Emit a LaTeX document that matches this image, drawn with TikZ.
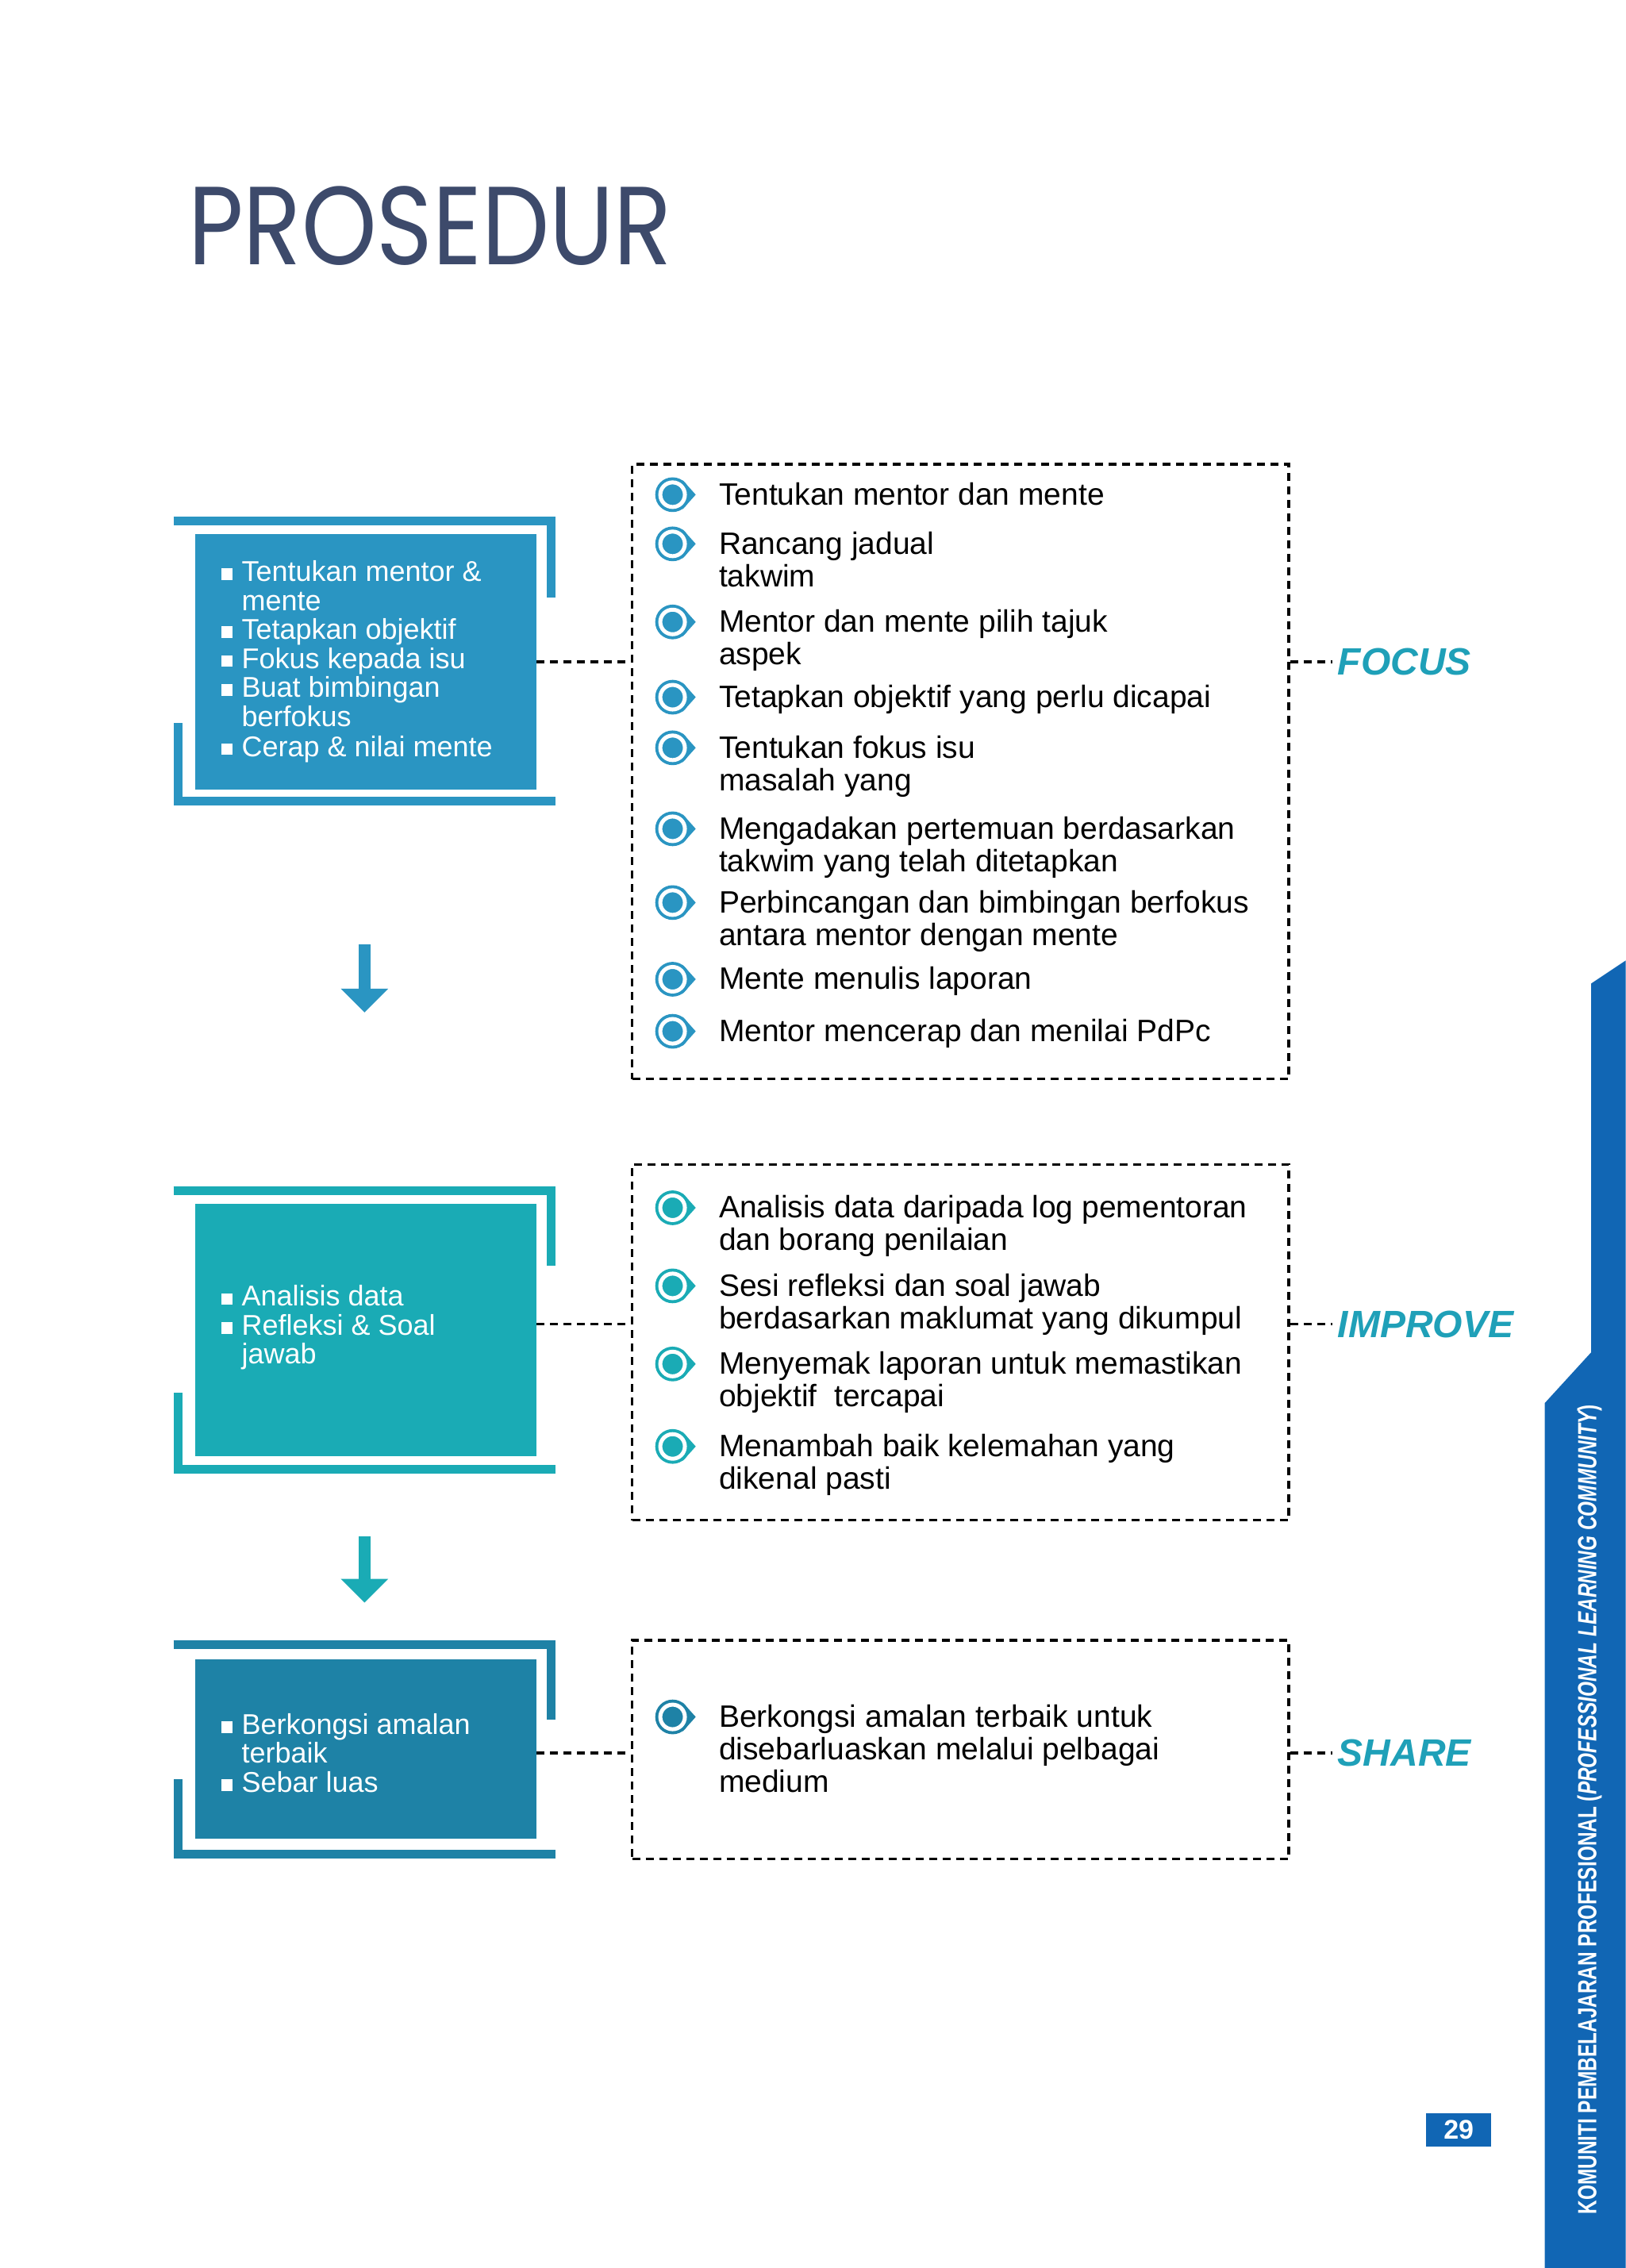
\documentclass[tikz,border=0pt]{standalone}
\usepackage{fontspec}
\setmainfont{Liberation Sans}
\newfontfamily\titlefont{Poppins}
\usetikzlibrary{arrows.meta}
\definecolor{cA}{HTML}{2A95C2}
\definecolor{cB}{HTML}{1AABB5}
\definecolor{cC}{HTML}{1E82A6}
\definecolor{lbl}{HTML}{1FA0B8}
\definecolor{side}{HTML}{1166B4}
\definecolor{ttl}{HTML}{3D4A6B}
\def\U{1.8224pt}
\tikzset{
  fillbox/.style={inner sep=0, draw=none},
  dbox/.style={draw=black, dash pattern=on 10pt off 7pt, line width=3.4pt, inner sep=0},
  dconn/.style={black, dash pattern=on 10pt off 7pt, line width=3.4pt},
  itm/.style={anchor=base west, inner sep=0, font=\fontsize{39}{41}\selectfont},
  btxt/.style={anchor=base west, inner sep=0, text=white, font=\fontsize{36}{36}\selectfont},
  phase/.style={anchor=west, inner sep=0, text=lbl, font=\fontsize{48}{50}\selectfont\bfseries\itshape},
  frame/.style={line width=6*\U},
  eye/.pic={
    \fill[pic actions] (0,0) circle (12);
    \fill[pic actions] (7,-10) -- (16,0) -- (7,10) -- cycle;
    \draw[white, line width=5pt] (0,0) circle (8.5);
  },
}
\newcommand\bx[3]{\fill[white] (#1-4,#2-2) rectangle (#1+4,#2+6);\node[btxt] at (#1+10,#2+7) {#3};}
\begin{document}
\begin{tikzpicture}[x=1.8224pt,y=-1.8224pt]
\useasboundingbox (0,0) rectangle (1124,1568);
\fill[white] (0,0) rectangle (1124,1568);
% title
\node[anchor=base west, inner sep=0, text=ttl] (title) at (130,183) {\scalebox{0.86}[1]{\titlefont\fontsize{140}{140}\selectfont PROSEDUR}};
% side bar
\fill[side] (1124,664) -- (1100,680) -- (1100,935) -- (1068,970) -- (1068,1568) -- (1124,1568) -- cycle;
\node[rotate=90, inner sep=0, text=white] (sidetxt) at (1099,1251) {\resizebox{1020pt}{24pt}{\bfseries KOMUNITI PEMBELAJARAN PROFESIONAL (\itshape PROFESSIONAL LEARNING COMMUNITY\upshape)}};
% page number
\node[fill=side, text=white, minimum width=45*\U, minimum height=23*\U, inner sep=0, font=\fontsize{34}{34}\selectfont\bfseries] (pg) at (1008.5,1472.5) {29};

% ---------- box 1
\draw[cA, frame] (120,360) -- (381,360) -- (381,413);
\draw[cA, frame] (123,500) -- (123,554) -- (384,554);
\node[fillbox, fill=cA, minimum width=236*\U, minimum height=177*\U] (b1) at (253,457.5) {};
\bx{157}{395}{Tentukan mentor \&}
\node[btxt] (b1l2) at (167,422) {mente};
\bx{157}{435}{Tetapkan objektif}
\bx{157}{455}{Fokus kepada isu}
\bx{157}{475}{Buat bimbingan}
\node[btxt] (b1l6) at (167,502) {berfokus};
\bx{157}{516}{Cerap \& nilai mente}

% ---------- box 2
\draw[cB, frame] (120,823) -- (381,823) -- (381,875);
\draw[cB, frame] (123,963) -- (123,1016) -- (384,1016);
\node[fillbox, fill=cB, minimum width=236*\U, minimum height=175*\U] (b2) at (253,919.5) {};
\bx{157}{896}{Analisis data}
\bx{157}{916}{Refleksi \& Soal}
\node[btxt] (b2l3) at (167,943) {jawab};

% ---------- box 3
\draw[cC, frame] (120,1137) -- (381,1137) -- (381,1189);
\draw[cC, frame] (123,1230) -- (123,1282) -- (384,1282);
\node[fillbox, fill=cC, minimum width=236*\U, minimum height=124*\U] (b3) at (253,1209) {};
\bx{157}{1192}{Berkongsi amalan}
\node[btxt] (b3l2) at (167,1219) {terbaik};
\bx{157}{1232}{Sebar luas}

% arrows
\coordinate (a1s) at (252,653); \coordinate (a1e) at (252,700);
\coordinate (a2s) at (252,1062); \coordinate (a2e) at (252,1108);
\draw[cA, line width=15pt, -{Triangle[width=58pt,length=30pt]}] (a1s) -- (a1e);
\draw[cB, line width=15pt, -{Triangle[width=58pt,length=30pt]}] (a2s) -- (a2e);

% dashed boxes
\node[dbox, minimum width=454*\U, minimum height=425*\U] (d1) at (664,533.5) {};
\node[dbox, minimum width=454*\U, minimum height=246*\U] (d2) at (664,928) {};
\node[dbox, minimum width=454*\U, minimum height=151*\U] (d3) at (664,1209.5) {};

% connectors
\draw[dconn] (b1.east) -- (b1.east -| d1.west);
\draw[dconn] (b2.east) ++(0,-4) coordinate (c2) (c2) -- (c2 -| d2.west);
\draw[dconn] (b3.east) ++(0,3) coordinate (c3) (c3) -- (c3 -| d3.west);
\coordinate (r1) at (d1.east |- b1.east);
\coordinate (r2) at (d2.east |- c2);
\coordinate (r3) at (d3.east |- c3);
\draw[dconn] (r1) -- ++(29,0) node[phase, right=3*\U] (f1) {FOCUS};
\draw[dconn] (r2) -- ++(29,0) node[phase, right=3*\U] (f2) {IMPROVE};
\draw[dconn] (r3) -- ++(29,0) node[phase, right=3*\U] (f3) {SHARE};

% focus items
\foreach \y/\t/\s in {
 342/Tentukan mentor dan mente/,
 376/Rancang jadual / takwim / sesi/pertemuan,
 430/Mentor dan mente pilih tajuk / aspek/perbincangan,
 482/Tetapkan objektif yang perlu dicapai/,
 517/Tentukan fokus isu / masalah yang/perlu dilihat,
 573/Mengadakan pertemuan berdasarkan/takwim yang telah ditetapkan,
 624/Perbincangan dan bimbingan berfokus/antara mentor dengan mente,
 677/Mente menulis laporan/,
 713/Mentor mencerap dan menilai PdPc/}{
  \pic[fill=cA] at (465,\y) {eye};
  \node[itm] at (497,\y+7) {\t};
  \node[itm] at (497,\y+29.5) {\s};
}
\foreach \y/\t/\s in {
 835/Analisis data daripada log pementoran/dan borang penilaian,
 889/Sesi refleksi dan soal jawab/berdasarkan maklumat yang dikumpul,
 943/Menyemak laporan untuk memastikan/objektif\ \ tercapai,
 1000/Menambah baik kelemahan yang/dikenal pasti}{
  \pic[fill=cB] at (465,\y) {eye};
  \node[itm] at (497,\y+7) {\t};
  \node[itm] at (497,\y+29.5) {\s};
}
\pic[fill=cC] at (465,1187) {eye};
\node[itm] (s1) at (497,1194) {Berkongsi amalan terbaik untuk};
\node[itm] (s2) at (497,1216.5) {disebarluaskan melalui pelbagai};
\node[itm] (s3) at (497,1239) {medium};
\end{tikzpicture}
\end{document}
